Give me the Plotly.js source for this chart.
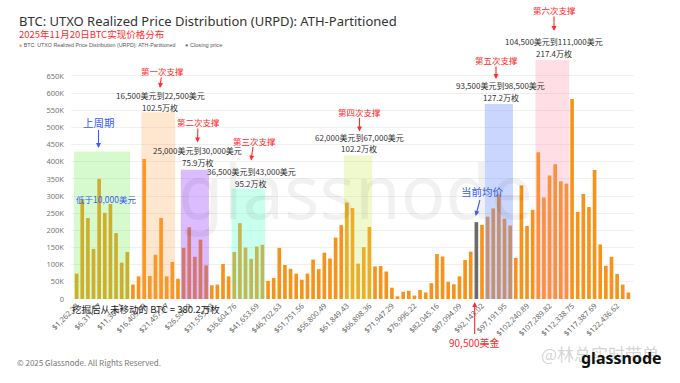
<!DOCTYPE html>
<html>
<head>
<meta charset="utf-8">
<script src="https://cdn.plot.ly/plotly-3.0.1.min.js"></script>
<style>html,body{margin:0;padding:0;background:#fff;}#chart{width:680px;height:383px;}</style>
</head>
<body>
<div id="chart"></div>
<script>
// ---- data ----
const binWidth = 1262.2331; // USD per ATH-partitioned bin
const closePrice = 90500;
// supply per bin, thousands of BTC (bins 1..99)
const supplyK = [
  74,289,236,146,350,251,277,192,106,137,
  42,66,408,67,129,236,66,108,59,149,
  209,123,173,98,40,42,102,66,137,221,
  150,117,153,158,53,61,149,99,88,74,
  56,74,115,87,135,118,179,215,281,265,
  103,151,210,95,96,80,33,8,21,24,
  10,26,19,46,131,124,50,43,66,114,
  138,224,216,240,264,305,234,214,120,331,
  213,260,428,296,360,393,343,336,583,254,
  306,268,376,159,97,123,73,42,19
];
const tickLabels = ["$1,262.23","$6,311.17","$11,360.1","$16,409.03","$21,457.97","$26,506.9","$31,555.83",
  "$36,604.76","$41,653.69","$46,702.63","$51,751.56","$56,800.49","$61,849.43","$66,898.36","$71,947.29",
  "$76,996.22","$82,045.16","$87,094.09","$92,143.02","$97,191.95","$102,240.89","$107,289.82",
  "$112,338.75","$117,387.69","$122,436.62"];
const yTickVals = [0,50000,100000,150000,200000,250000,300000,350000,400000,450000,500000,550000,600000,650000];
const yTickText = ["0","50K","100K","150K","200K","250K","300K","350K","400K","450K","500K","550K","600K","650K"];
// support zones: [firstBin, lastBin, topValue]
const zones = [
  {from:1,  to:10, top:430000, color:"rgba(120,240,90,0.30)"},
  {from:13, to:18, top:544000, color:"rgba(255,165,80,0.28)"},
  {from:20, to:24, top:377000, color:"rgba(155,70,255,0.36)"},
  {from:29, to:34, top:322000, color:"rgba(90,255,200,0.33)"},
  {from:49, to:53, top:418000, color:"rgba(205,235,90,0.30)"},
  {from:74, to:78, top:568000, color:"rgba(110,140,255,0.36)"},
  {from:83, to:88, top:700000, color:"rgba(255,140,160,0.28)"}
];

// ---- build ----
const bins = supplyK.map((_, i) => i + 1);
const values = supplyK.map(v => v * 1000);
const closeBin = Math.ceil(closePrice / binWidth);
const colors = bins.map(b => b === closeBin ? "#6b6b6b" : "#f7931a");
const tickVals = tickLabels.map((_, i) => 1 + 4 * i);

const L = 71, T = 60, W = 563, H = 239;
const PX = p => (p - L) / W;
const PY = p => (T + H - p) / H;

const cjk = '"Noto Sans CJK SC", "Noto Sans", sans-serif';
const red = "#ff2b2b", blue = "#3a5cf0";

function arrowNote(text, tx, ty, hx, hy, color, size) {
  return {xref:"paper", yref:"paper", x:PX(hx), y:PY(hy), ax:tx - hx, ay:ty - hy,
    text:text, showarrow:true, arrowhead:2, arrowsize:0.9, arrowwidth:1.1, arrowcolor:color,
    borderpad:0, font:{family:cjk, size:size, color:color}};
}
function textNote(text, x, y, size, color, anchor) {
  return {xref:"paper", yref:"paper", x:PX(x), y:PY(y), text:text, showarrow:false, borderpad:0,
    xanchor:anchor || "center", yanchor:"middle", font:{family:cjk, size:size, color:color}};
}

const annotations = [
  // watermark
  {xref:"paper", yref:"paper", x:PX(355), y:PY(190), xanchor:"center", yanchor:"middle", text:"glassnode", showarrow:false,
    font:{family:"Noto Sans, sans-serif", size:74, color:"rgba(0,0,0,0.055)"}},
  // title block
  {xref:"paper", yref:"paper", x:PX(17), y:PY(21), xanchor:"left", yanchor:"middle", showarrow:false,
    text:"BTC: UTXO Realized Price Distribution (URPD): ATH-Partitioned",
    font:{family:"Noto Sans, sans-serif", size:13, color:"#333"}},
  {xref:"paper", yref:"paper", x:PX(17), y:PY(34), xanchor:"left", yanchor:"middle", showarrow:false,
    text:"2025年11月20日BTC实现价格分布", font:{family:cjk, size:9.5, color:red}},
  {xref:"paper", yref:"paper", x:PX(18), y:PY(45.5), xanchor:"left", yanchor:"middle", showarrow:false, borderpad:0,
    text:"<span style='color:#f7931a'>●</span> BTC: UTXO Realized Price Distribution (URPD): ATH-Partitioned",
    font:{family:"Liberation Sans, Arial, sans-serif", size:5.3, color:"#555"}},
  {xref:"paper", yref:"paper", x:PX(184), y:PY(45.5), xanchor:"left", yanchor:"middle", showarrow:false, borderpad:0,
    text:"<span style='color:#777'>●</span> Closing price",
    font:{family:"Liberation Sans, Arial, sans-serif", size:5.6, color:"#555"}},
  // cycle labels
  arrowNote("上周期", 98.5, 122, 98.5, 148, blue, 10.5),
  textNote("低于10,000美元", 106, 198.5, 8.5, blue),
  arrowNote("第一次支撑", 162, 71, 160, 88, red, 8.5),
  textNote("16,500美元到22,500美元", 160, 96, 8, "#333"),
  textNote("102.5万枚", 160, 107.5, 8, "#333"),
  arrowNote("第二次支撑", 198, 122, 197.5, 142.5, red, 8.5),
  textNote("25,000美元到30,000美元", 197.5, 150.5, 8, "#333"),
  textNote("75.9万枚", 197.5, 162, 8, "#333"),
  arrowNote("第三次支撑", 254, 140.5, 251, 160.5, red, 8.5),
  textNote("36,500美元到43,000美元", 251, 171.5, 8, "#333"),
  textNote("95.2万枚", 251, 183, 8, "#333"),
  arrowNote("第四次支撑", 359.5, 111.5, 359.5, 131.5, red, 8.5),
  textNote("62,000美元到67,000美元", 359, 137, 8, "#333"),
  textNote("102.2万枚", 358.5, 148.5, 8, "#333"),
  arrowNote("当前均价", 482, 192, 475.7, 216, blue, 10.5),
  arrowNote("第五次支撑", 496, 60, 496, 79, red, 8.5),
  textNote("93,500美元到98,500美元", 501, 86, 8, "#333"),
  textNote("127.2万枚", 501, 97.5, 8, "#333"),
  arrowNote("第六次支撑", 554, 10, 554, 31, red, 8.5),
  textNote("104,500美元到111,000美元", 554, 42, 8, "#333"),
  textNote("217.4万枚", 553.5, 53.5, 8, "#333"),
  textNote("挖掘后从未移动的 BTC = 380.2万枚", 71, 308.5, 9.5, "#222", "left"),
  {xref:"x", yref:"paper", x:closePrice / binWidth, y:PY(302), ax:0, ay:40, borderpad:0,
    text:"90,500美金", showarrow:true, arrowhead:2, arrowsize:0.9, arrowwidth:1.1, arrowcolor:red,
    font:{family:cjk, size:10, color:red}},
  // footer
  textNote("© 2025 Glassnode. All Rights Reserved.", 16, 362, 8, "#777", "left"),
  textNote("@林总实时带单", 600, 353, 17, "rgba(160,160,160,0.45)"),
  {xref:"paper", yref:"paper", x:PX(621), y:PY(358), xanchor:"center", yanchor:"middle", text:"<b>glassnode</b>", showarrow:false,
    font:{family:"Noto Sans, sans-serif", size:16, color:"#111"}}
];

const shapes = zones.map(z => ({type:"rect", xref:"x", yref:"y", x0:z.from - 0.5, x1:z.to + 0.5,
  y0:0, y1:z.top, fillcolor:z.color, line:{width:0}, layer:"above"}));

const trace = {type:"bar", x:bins, y:values, marker:{color:colors, line:{width:0}}, hoverinfo:"x+y"};

const layout = {
  width:680, height:383, margin:{l:L, r:680 - L - W, t:T, b:383 - T - H},
  paper_bgcolor:"#fff", plot_bgcolor:"#fff", showlegend:false, bargap:0.35,
  font:{family:"Noto Sans, sans-serif"},
  xaxis:{range:[0,100], tickvals:tickVals, ticktext:tickLabels, tickangle:-45,
    tickfont:{size:7.5, color:"#666"}, showgrid:false, zeroline:false, showline:false, ticks:"", fixedrange:true},
  yaxis:{range:[0,696600], tickvals:yTickVals, ticktext:yTickText, tickfont:{size:7.5, color:"#777"},
    gridcolor:"#f0f0f0", zeroline:false, showline:false, ticks:"", ticklabelstandoff:6, fixedrange:true},
  shapes:shapes, annotations:annotations
};

Plotly.newPlot("chart", [trace], layout, {displayModeBar:false, staticPlot:true});
</script>
</body>
</html>
